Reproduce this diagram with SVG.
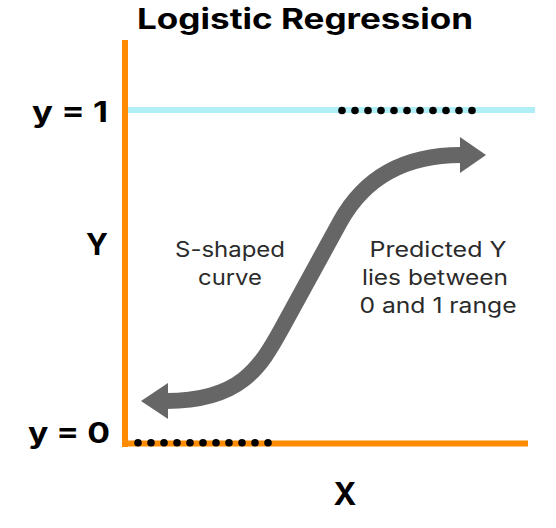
<svg xmlns="http://www.w3.org/2000/svg" width="556" height="528" viewBox="0 0 556 528">
<style>
.b{font-family:Inter,"Liberation Sans",sans-serif;font-weight:700;fill:#000}
.r{font-family:Inter,"Liberation Sans",sans-serif;font-weight:400;fill:#2b2b2b;font-size:21px;text-anchor:middle}
.dot{fill:#000}
</style>
<defs>
<circle id="d" r="3.8"/>
</defs>
<rect width="556" height="528" fill="#fff"/>
<g id="title"><text class="b" x="305" y="29" font-size="28" text-anchor="middle" textLength="336" lengthAdjust="spacingAndGlyphs">Logistic Regression</text></g>
<g id="axes">
<line x1="128" y1="110" x2="535" y2="110" stroke="#b0eff5" stroke-width="6"/>
<line x1="125" y1="40" x2="125" y2="447" stroke="#ff8c00" stroke-width="6"/>
<line x1="122" y1="443.5" x2="528" y2="443.5" stroke="#ff8c00" stroke-width="6"/>
</g>
<g id="dots-top" class="dot">
<use href="#d" x="342" y="110.5"/><use href="#d" x="355" y="110.5"/><use href="#d" x="368" y="110.5"/><use href="#d" x="381" y="110.5"/><use href="#d" x="394" y="110.5"/><use href="#d" x="407" y="110.5"/><use href="#d" x="420" y="110.5"/><use href="#d" x="433" y="110.5"/><use href="#d" x="446" y="110.5"/><use href="#d" x="459" y="110.5"/><use href="#d" x="472" y="110.5"/>
</g>
<g id="dots-bottom" class="dot">
<use href="#d" x="138" y="442.7"/><use href="#d" x="151" y="442.7"/><use href="#d" x="164" y="442.7"/><use href="#d" x="177" y="442.7"/><use href="#d" x="190" y="442.7"/><use href="#d" x="203" y="442.7"/><use href="#d" x="216" y="442.7"/><use href="#d" x="229" y="442.7"/><use href="#d" x="242" y="442.7"/><use href="#d" x="255" y="442.7"/><use href="#d" x="268" y="442.7"/>
</g>
<g id="connectors">
<path d="M 166 401 C 240 401, 260 368, 282 328 L 340 222 C 362 182, 400 155, 461 155" fill="none" stroke="#666" stroke-width="16"/>
<polygon points="141,401 168,383 168,419" fill="#666"/>
<polygon points="486,155 460,137 460,173" fill="#666"/>
</g>
<g id="labels">
<text class="b" x="108" y="122" font-size="28" text-anchor="end" textLength="76" lengthAdjust="spacingAndGlyphs">y = 1</text>
<text class="b" x="108" y="255" font-size="30" text-anchor="end">Y</text>
<text class="b" x="110" y="443" font-size="28" text-anchor="end" textLength="82" lengthAdjust="spacingAndGlyphs">y = 0</text>
<text class="b" x="345" y="505" font-size="31" text-anchor="middle">X</text>
</g>
<g id="note-left">
<text class="r" x="230" y="257" textLength="110" lengthAdjust="spacingAndGlyphs">S-shaped</text>
<text class="r" x="230" y="285" textLength="64" lengthAdjust="spacingAndGlyphs">curve</text>
</g>
<g id="note-right">
<text class="r" x="438" y="257" textLength="137" lengthAdjust="spacingAndGlyphs">Predicted Y</text>
<text class="r" x="435" y="285" textLength="146" lengthAdjust="spacingAndGlyphs">lies between</text>
<text class="r" x="438" y="313" textLength="157" lengthAdjust="spacingAndGlyphs">0 and 1 range</text>
</g>
</svg>
